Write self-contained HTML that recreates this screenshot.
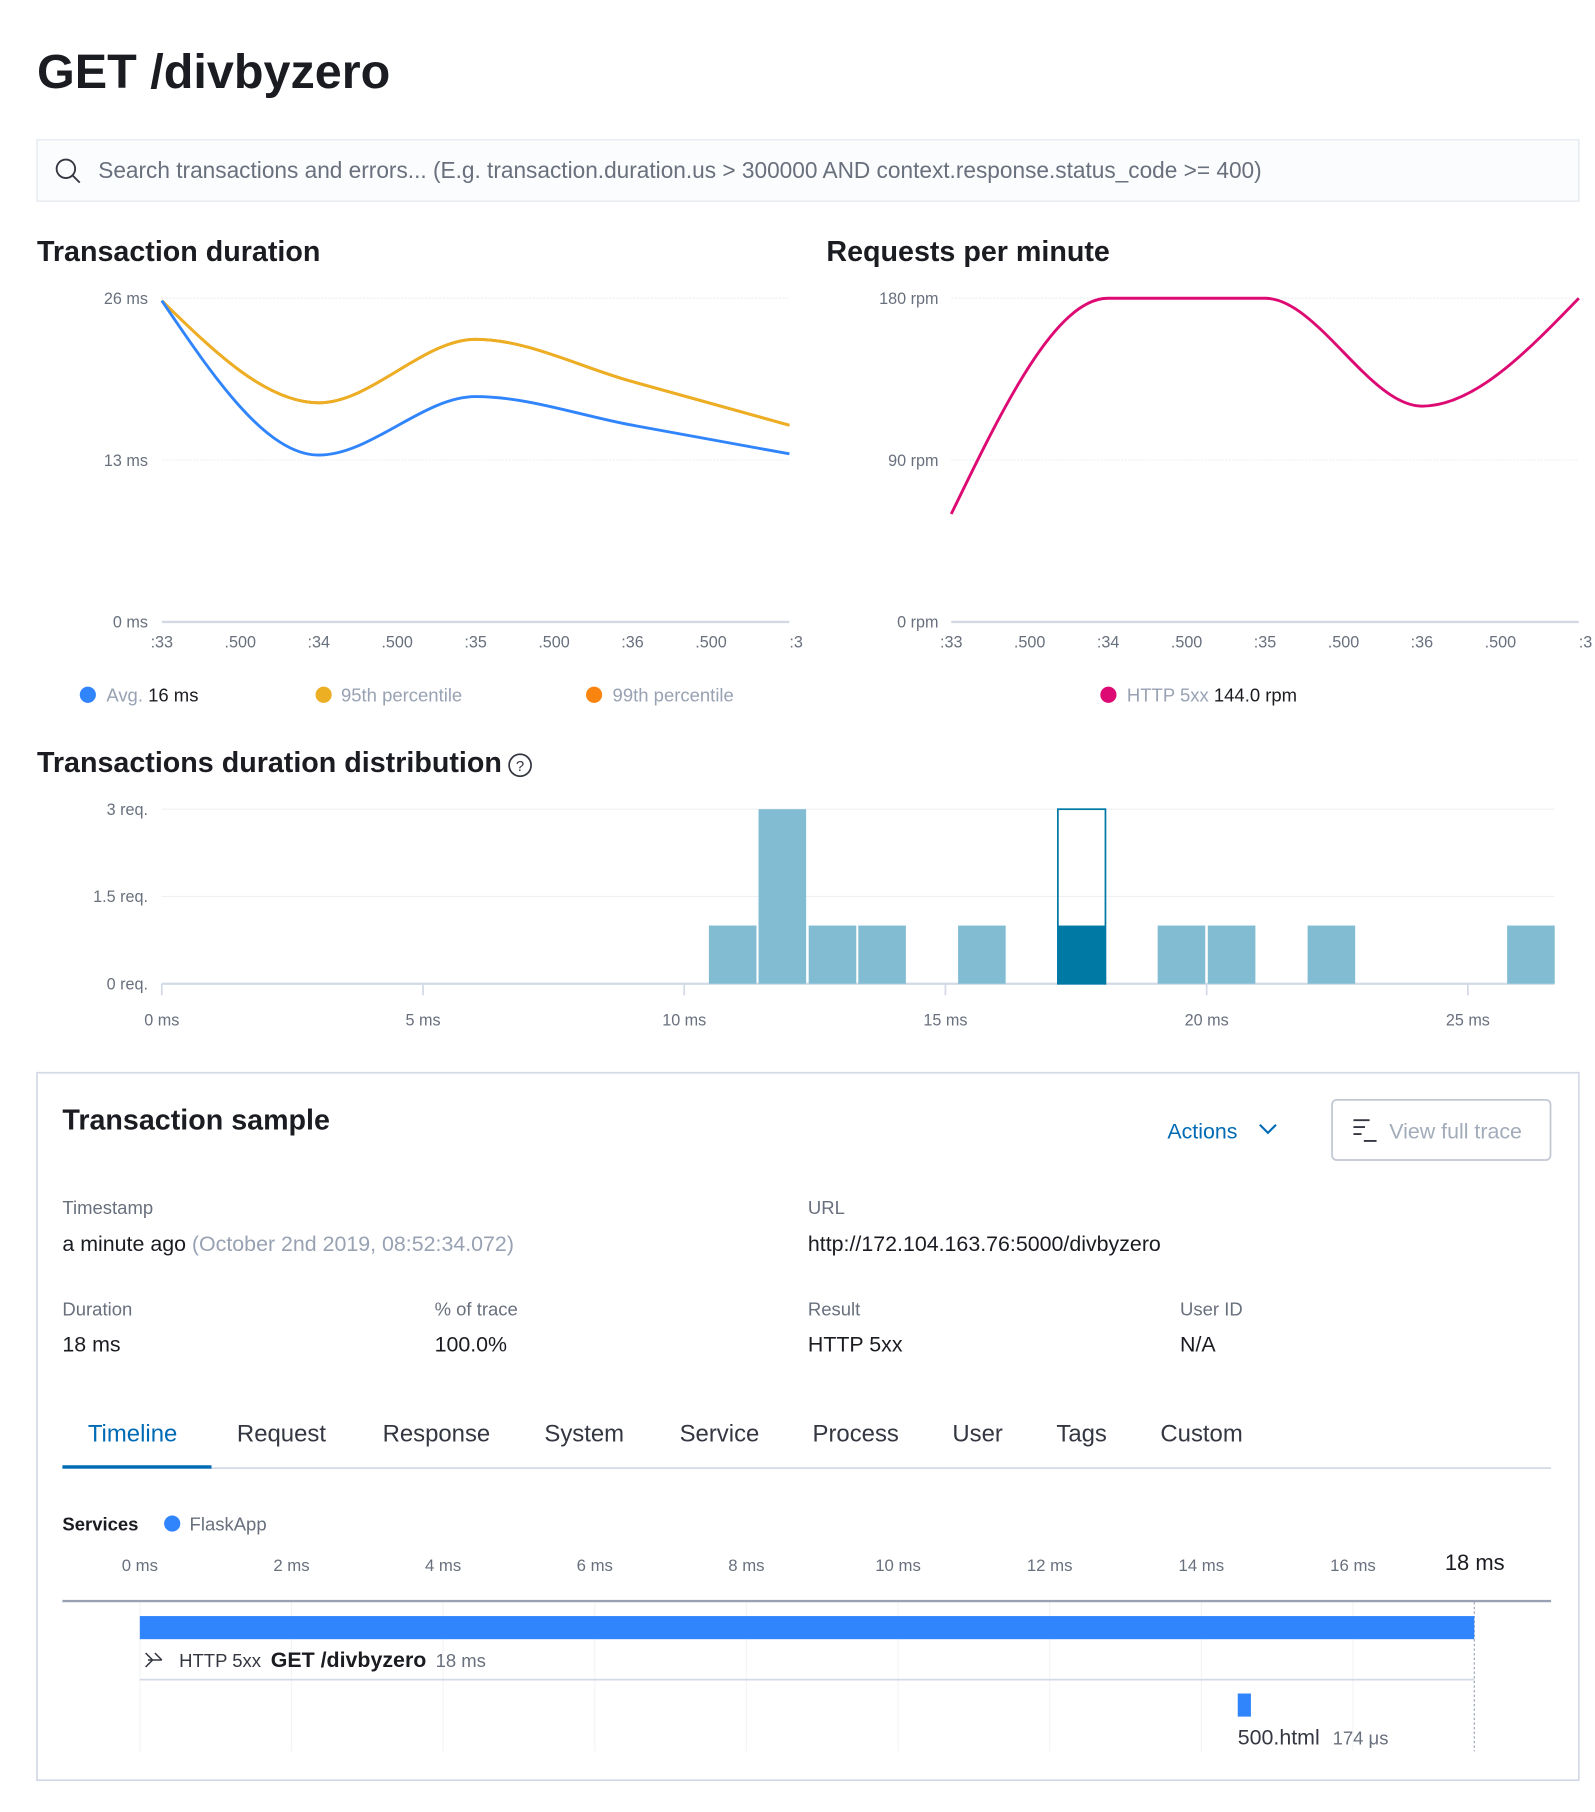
<!DOCTYPE html>
<html><head><meta charset="utf-8"><style>
html,body{margin:0;padding:0;background:#fff;}
svg{display:block;font-family:"Liberation Sans",sans-serif;}
</style></head><body>
<svg id="page" width="1595" height="1812" viewBox="0 0 1380 1567.5" preserveAspectRatio="none" xmlns="http://www.w3.org/2000/svg">
<text x="32" y="76" font-size="42" font-weight="600" fill="#1a1c21">GET /divbyzero</text>
<g>
<rect x="32" y="121" width="1334" height="53" fill="#fbfcfd" stroke="#e0e5ee"/>
<circle cx="57" cy="146" r="8" fill="none" stroke="#343741" stroke-width="1.6"/>
<line x1="63" y1="152" x2="69" y2="158" stroke="#343741" stroke-width="1.6"/>
<text x="85" y="154" font-size="19.6" fill="#69707d">Search transactions and errors... (E.g. transaction.duration.us &gt; 300000 AND context.response.status_code &gt;= 400)</text>
</g>
<text x="32" y="226" font-size="24.8" font-weight="600" fill="#1a1c21">Transaction duration</text>
<text x="715" y="226" font-size="24.8" font-weight="600" fill="#1a1c21">Requests per minute</text>
<g id="durChart"></g>
<g id="rpmChart"></g>
<g font-size="16">
<circle cx="76" cy="601" r="7" fill="#3185fc"/><text x="92" y="607" fill="#98a2b3">Avg. <tspan fill="#1a1c21">16 ms</tspan></text>
<circle cx="280" cy="601" r="7" fill="#ecae23"/><text x="295" y="607" fill="#98a2b3">95th percentile</text>
<circle cx="514" cy="601" r="7" fill="#f98510"/><text x="530" y="607" fill="#98a2b3">99th percentile</text>
</g>
<g font-size="16">
<circle cx="959" cy="601" r="7" fill="#dd0a73"/><text x="975" y="607" fill="#98a2b3">HTTP 5xx <tspan fill="#1a1c21">144.0 rpm</tspan></text>
</g>
<text x="32" y="668" font-size="24.8" font-weight="600" fill="#1a1c21">Transactions duration distribution</text>
<g><circle cx="450" cy="662" r="9.5" fill="none" stroke="#343741" stroke-width="1.5"/><text x="450" y="667" font-size="13" text-anchor="middle" fill="#343741">?</text></g>
<g id="histChart"></g>

<g>
<rect x="32" y="928" width="1334" height="612" fill="#fff" stroke="#d3dae6" stroke-width="1.5"/>
<text x="54" y="977" font-size="24.8" font-weight="600" fill="#1a1c21">Transaction sample</text>
<g><text x="1010" y="985" font-size="18.5" fill="#006bb4">Actions</text><path d="M1090 973 l7 7 l7 -7" fill="none" stroke="#006bb4" stroke-width="1.8"/></g>
<g>
<rect x="1152.5" y="951.5" width="189" height="52" rx="4" fill="#fff" stroke="#c2c8d2" stroke-width="1.5"/>
<path d="M1171 969h14M1171 975h10M1171 981h7M1180 987h11" stroke="#343741" stroke-width="1.6"/>
<text x="1202" y="985" font-size="18.5" fill="#a2abba">View full trace</text></g>
<g font-size="16" fill="#69707d">
<text x="54" y="1050">Timestamp</text><text x="699" y="1050">URL</text>
<text x="54" y="1138">Duration</text><text x="376" y="1138">% of trace</text><text x="699" y="1138">Result</text><text x="1021" y="1138">User ID</text>
</g>
<g font-size="18.5" fill="#1a1c21">
<text x="54" y="1082">a minute ago <tspan fill="#98a2b3">(October 2nd 2019, 08:52:34.072)</tspan></text>
<text x="699" y="1082">http://172.104.163.76:5000/divbyzero</text>
<text x="54" y="1169">18 ms</text><text x="376" y="1169">100.0%</text><text x="699" y="1169">HTTP 5xx</text><text x="1021" y="1169">N/A</text>
</g>
<g font-size="20.7" fill="#343741">
<line x1="54" y1="1270" x2="1342" y2="1270" stroke="#d3dae6" stroke-width="1.5"/>
<line x1="54" y1="1269" x2="183" y2="1269" stroke="#006bb4" stroke-width="3"/>
<text x="76" y="1247" fill="#006bb4">Timeline</text>
<text x="205" y="1247">Request</text>
<text x="331" y="1247">Response</text>
<text x="471" y="1247">System</text>
<text x="588" y="1247">Service</text>
<text x="703" y="1247">Process</text>
<text x="824" y="1247">User</text>
<text x="914" y="1247">Tags</text>
<text x="1004" y="1247">Custom</text>
</g>
<g>
<text x="54" y="1324" font-size="16" font-weight="bold" fill="#1a1c21">Services</text>
<circle cx="149" cy="1318" r="7" fill="#3185fc"/><text x="164" y="1324" font-size="16" fill="#69707d">FlaskApp</text>
</g>
<g id="timeline"></g>
</g>
</svg>
<script>
const NS="http://www.w3.org/2000/svg";
function mk(parent,tag,attrs,txt){const e=document.createElementNS(NS,tag);for(const k in attrs)e.setAttribute(k,attrs[k]);if(txt!==undefined)e.textContent=txt;parent.appendChild(e);return e;}
function monotone(pts){const n=pts.length;if(n<2)return "";const d=[],m=[];for(let i=0;i<n-1;i++)d.push((pts[i+1][1]-pts[i][1])/(pts[i+1][0]-pts[i][0]));
for(let i=1;i<n-1;i++){if(d[i-1]*d[i]<=0)m[i]=0;else m[i]=2/((1/d[i-1])+(1/d[i]));}
m[0]=d[0]===0?0:(3*d[0]-m[1])/2;m[n-1]=d[n-2]===0?0:(3*d[n-2]-m[n-2])/2;
if(m[0]*d[0]<0)m[0]=0;if(m[n-1]*d[n-2]<0)m[n-1]=0;
let s="M"+pts[0][0]+","+pts[0][1];for(let i=0;i<n-1;i++){const h=(pts[i+1][0]-pts[i][0])/3;s+=" C"+(pts[i][0]+h)+","+(pts[i][1]+m[i]*h)+" "+(pts[i+1][0]-h)+","+(pts[i+1][1]-m[i+1]*h)+" "+pts[i+1][0]+","+pts[i+1][1];}return s;}

// ===== Duration chart data =====
const timeTicks=[":33",".500",":34",".500",":35",".500",":36",".500",":3"];
const durTicks=[0,13,26];
const durSeconds=[0,1,2,3,4];
const avgValues=[25.8,13.4,18.1,15.8,13.5];
const p95Values=[25.8,17.6,22.7,19.3,15.8];
const p99Values=[25.8,17.6,22.7,19.3,15.8];
// ===== RPM chart data =====
const rpmTicks=[0,90,180];
const rpmSeconds=[0,1,2,3,4];
const rpmValues=[60,180,180,120,180];
// ===== Histogram data =====
const histBucketStart=[10.45,11.40,12.36,13.31,15.22,17.13,19.04,20.00,21.91,25.73];
const histBucketWidth=0.955;
const histCounts=[1,3,1,1,1,1,1,1,1,1];
const histSelectedIndex=5;
const histYTicks=[0,1.5,3];
const histYLabels=["0 req.","1.5 req.","3 req."];
const histXTicks=[0,5,10,15,20,25];
// ===== Timeline data =====
const tlTicks=[0,2,4,6,8,10,12,14,16,18];
const tlTotal=17.6;
const spanStart=14.48, spanDur=0.174;

function lineChart(g,x0,x1,yTop,yBot,maxV,ticks,unit,series,labelEnd){
  const xs=t=>x0+(x1-x0)*t/4;const ys=v=>yBot-(yBot-yTop)*v/maxV;
  ticks.forEach(v=>{const y=ys(v);
    const l=mk(g,'line',{x1:x0,x2:x1,y1:y,y2:y,stroke:v===0?'#d3dae6':'#eef0f3','stroke-width':v===0?2:1,'stroke-dasharray':v===0?'':'2,1'});
    
    
    const t=mk(g,'text',{x:labelEnd,y:y+5,'text-anchor':'end','font-size':14,fill:'#69707d'},v+" "+unit);
    
    });
  timeTicks.forEach((lab,i)=>{const t=mk(g,'text',{x:x0+(x1-x0)*i/8,y:yBot+22,'text-anchor':i===8?'start':'middle','font-size':14,fill:'#69707d'},lab);
    
    });
  series.forEach(s=>{const p=mk(g,'path',{d:monotone(s.x.map((t,i)=>[xs(t),ys(s.v[i])])),fill:'none',stroke:s.c,'stroke-width':2.5});
    
    });
}
lineChart(document.getElementById('durChart'),140,683,258,538,26,durTicks,"ms",[
 {x:durSeconds,v:p99Values,c:'#f98510',n:'p99-line'},
 {x:durSeconds,v:p95Values,c:'#ecae23',n:'p95-line'},
 {x:durSeconds,v:avgValues,c:'#3185fc',n:'avg-line'}],128);
lineChart(document.getElementById('rpmChart'),823,1366,258,538,180,rpmTicks,"rpm",[
 {x:rpmSeconds,v:rpmValues,c:'#dd0a73',n:'http-5xx-line'}],812);

(function(){const g=document.getElementById('histChart');const x0=140,pxms=45.2,yBot=851,yTop=700;
 const xs=v=>x0+v*pxms, ys=v=>yBot-(yBot-yTop)*v/3;
 histYTicks.forEach((v,i)=>{const y=ys(v);
  const l=mk(g,'line',{x1:140,x2:1345,y1:y,y2:y,stroke:v===0?'#d3dae6':'#eef0f3','stroke-width':v===0?2:1});
  
  
  const t=mk(g,'text',{x:128,y:y+5,'text-anchor':'end','font-size':14,fill:'#69707d'},histYLabels[i]);
  
  });
 histXTicks.forEach(v=>{const x=xs(v);mk(g,'line',{x1:x,x2:x,y1:yBot,y2:yBot+10,stroke:'#d3dae6','stroke-width':1.5});
  const t=mk(g,'text',{x:x,y:887,'text-anchor':'middle','font-size':14,fill:'#69707d'},v+" ms");
  
  });
 histBucketStart.forEach((b,i)=>{const x=xs(b)+1,w=histBucketWidth*pxms-2,sel=i===histSelectedIndex;
  if(sel){const o=mk(g,'rect',{x:x,y:ys(3),width:w,height:yBot-ys(3),fill:'none',stroke:'#0079a5','stroke-width':1.5});
   
   }
  const r=mk(g,'rect',{x:x,y:ys(histCounts[i]),width:w,height:yBot-ys(histCounts[i]),fill:sel?'#0079a5':'#81bcd3'});
  
  });
})();

(function(){const g=document.getElementById('timeline');const x0=121,pxms=65.6;const xs=v=>x0+v*pxms;
 tlTicks.forEach((v,i)=>{const x=xs(v);const last=i===tlTicks.length-1;
  const t=mk(g,'text',{x:x,y:last?1358:1359,'text-anchor':last?'end':'middle','font-size':last?19:14.5,fill:last?'#1a1c21':'#69707d'},v+" ms");
  
  
  if(!last)mk(g,'line',{x1:x,x2:x,y1:1386,y2:1515,stroke:'#f3f4f6','stroke-width':1});});
 const xe=xs(tlTotal);
 mk(g,'line',{x1:xe,x2:xe,y1:1386,y2:1515,stroke:'#98a2b3','stroke-width':1,'stroke-dasharray':'2,2'});
 mk(g,'line',{x1:54,x2:1342,y1:1385,y2:1385,stroke:'#98a2b3','stroke-width':2});
 const bar=mk(g,'rect',{x:x0,y:1398,width:xe-x0,height:20,fill:'#3185fc'});
 
 
 mk(g,'path',{d:'M126 1430 l6 6 l-6 6 M128 1436 h12 M134 1430 l6 6',fill:'none',stroke:'#343741','stroke-width':1.3});
 const lbl=mk(g,'text',{x:155,y:1442,'font-size':16,fill:'#343741'});
 
 
 lbl.innerHTML='HTTP 5xx <tspan font-size="18.5" font-weight="600" fill="#1a1c21" dx="4">GET /divbyzero</tspan><tspan fill="#69707d" dx="8">18 ms</tspan>';
 mk(g,'line',{x1:x0,x2:xe,y1:1453,y2:1453,stroke:'#d3dae6','stroke-width':1.5});
 const sp=mk(g,'rect',{x:xs(spanStart),y:1465,width:Math.max(10,xs(spanStart+spanDur)-xs(spanStart)),height:20,fill:'#3185fc'});
 
 
 const st=mk(g,'text',{x:xs(spanStart),y:1509,'font-size':18.5,fill:'#343741'});
 
 
 st.innerHTML='500.html <tspan font-size="16" fill="#69707d" dx="6">174 μs</tspan>';
})();
</script>
</body></html>
